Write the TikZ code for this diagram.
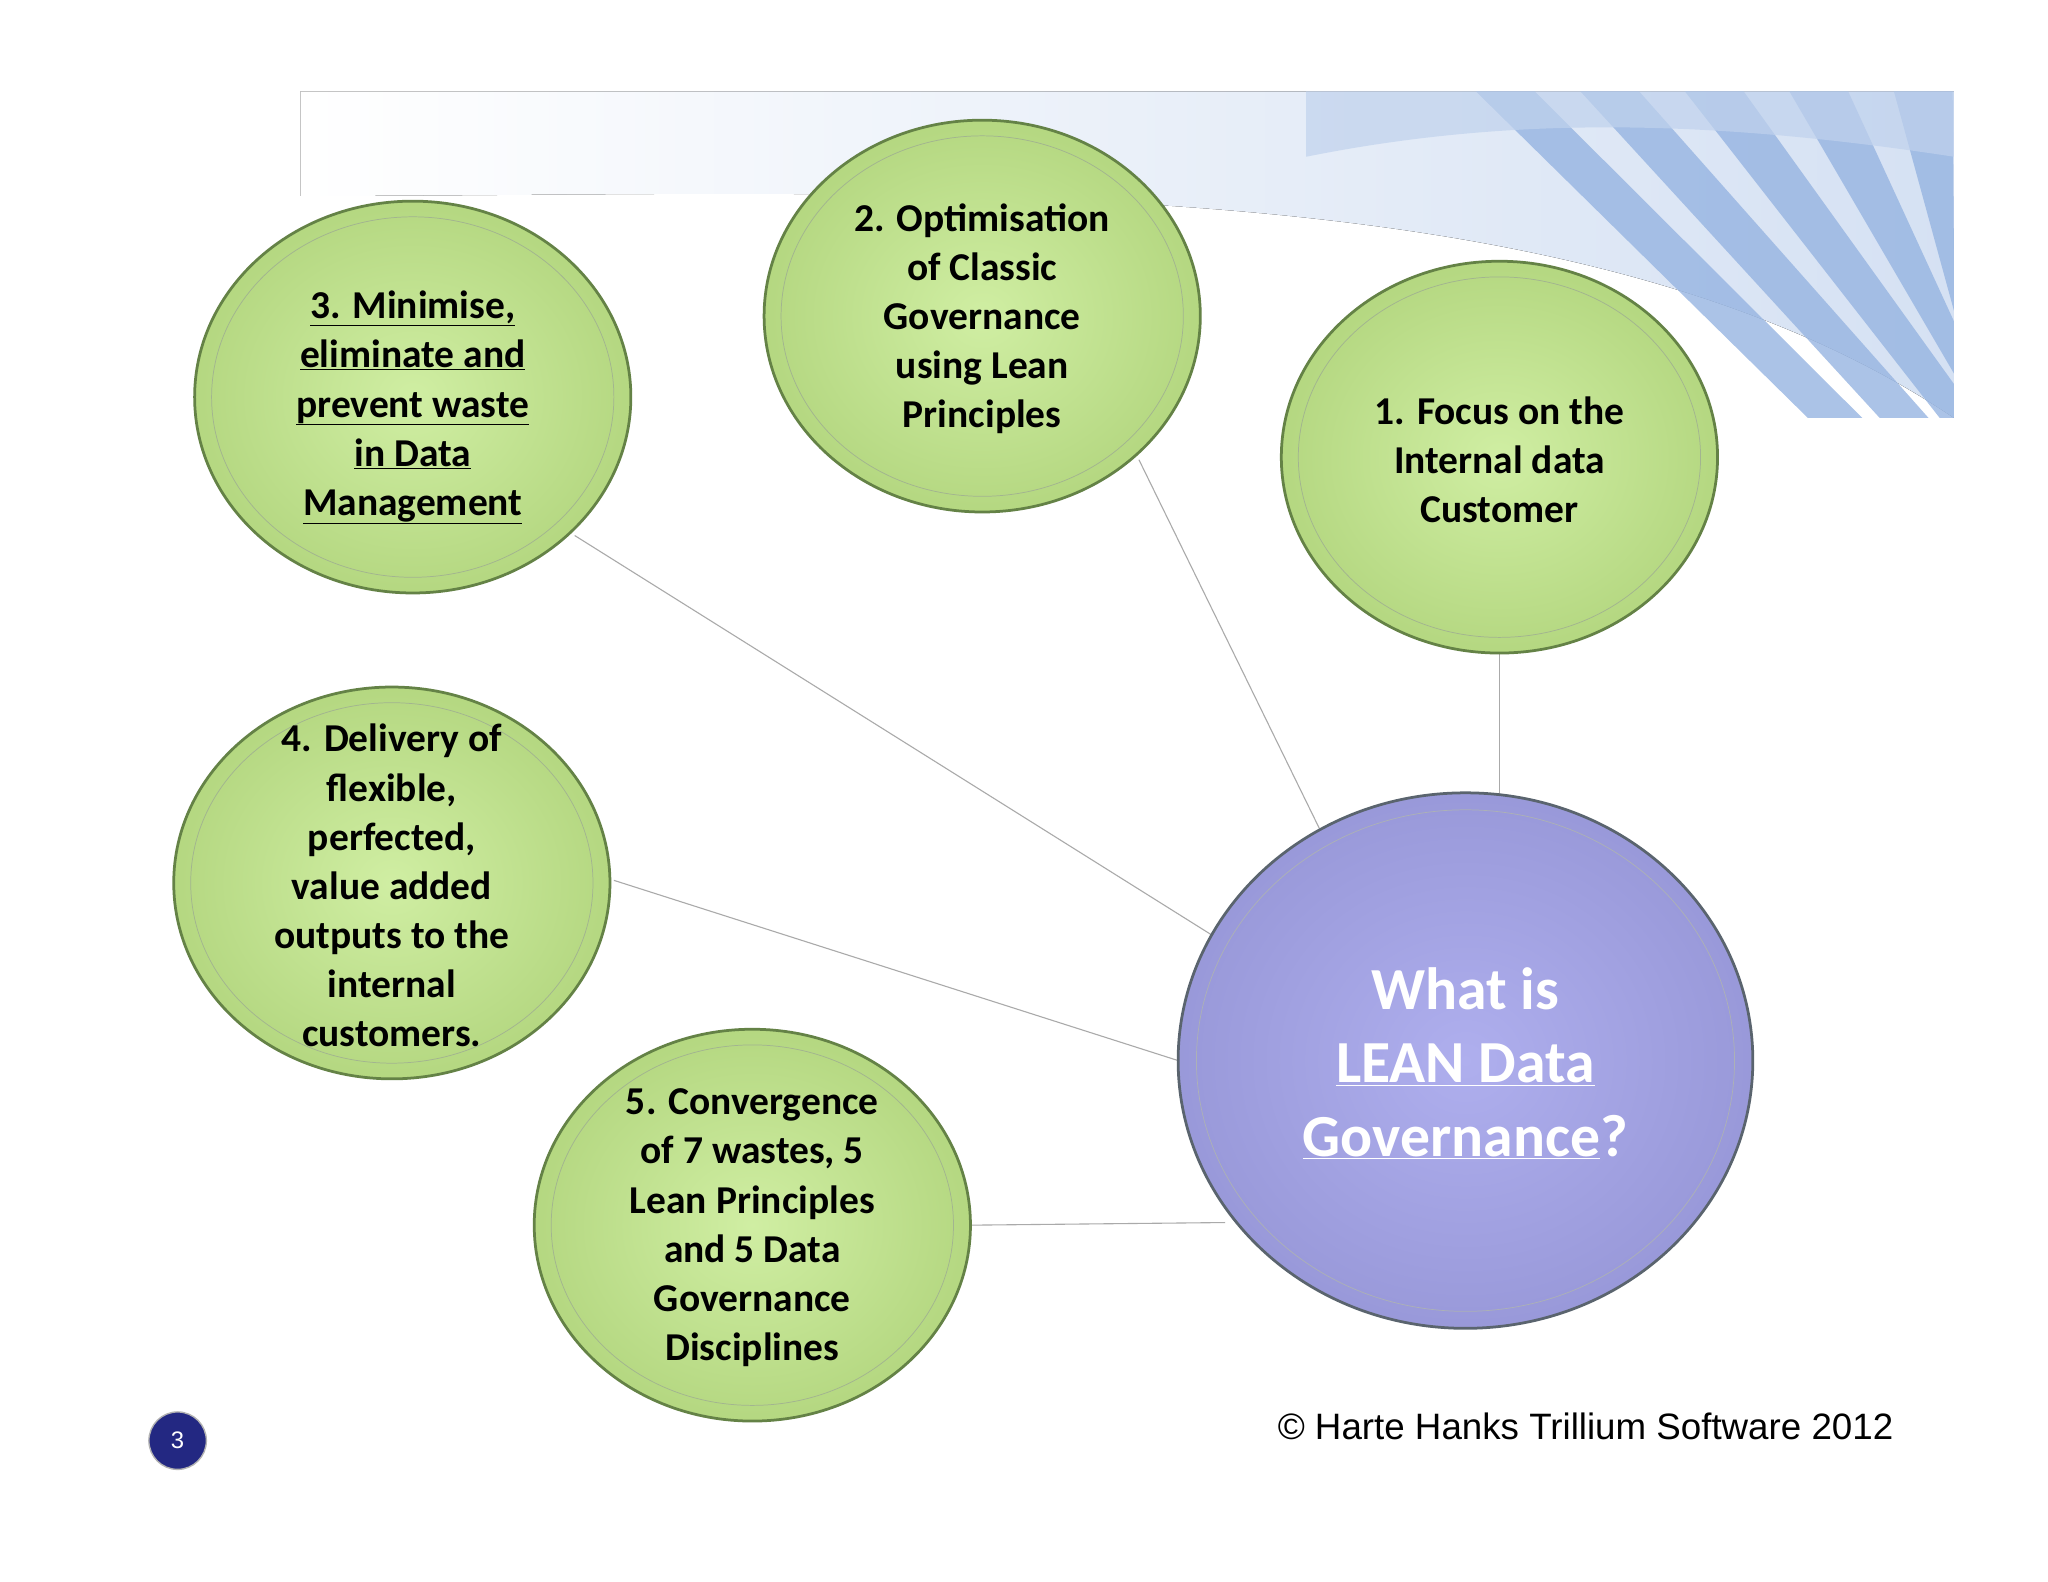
\documentclass[tikz,border=0pt]{standalone}
\usepackage{fontspec}
\setmainfont{Carlito}
\newfontfamily\arialf{Liberation Sans}
\definecolor{gfill}{RGB}{196,234,140}
\definecolor{gedge}{RGB}{100,130,70}
\definecolor{pfill}{RGB}{166,166,236}
\definecolor{pedge}{RGB}{90,100,110}
\definecolor{stripe}{RGB}{150,180,225}
\definecolor{navy}{RGB}{35,40,130}
\definecolor{conn}{RGB}{170,170,170}
\begin{document}
\begin{tikzpicture}[x=0.05cm,y=-0.05cm,
  ring/.style={draw=gedge!60,line width=0.8pt},
  link/.style={draw=conn,line width=1.2pt}]
\useasboundingbox (0,0) rectangle (1568,1211);
\fill[white] (0,0) rectangle (1568,1211);
% background stripes
\fill[left color=white,right color=stripe!40] (230,70) -- (1496,70) -- (1496,320) .. controls (1200,120) and (700,150) .. (230,150) -- cycle;
\begin{scope}
\clip (900,70) rectangle (1496,320);
\foreach \s in {0,80,160,240,320,400}{
  \fill[stripe,opacity=0.8] (1130+\s,70) -- (1175+\s,70) -- (1496,390-\s*0.6) -- (1496,430-\s*0.6) -- cycle;}
\fill[stripe!60,opacity=0.7] (1000,70) -- (1496,70) -- (1496,120) .. controls (1300,90) and (1150,90) .. (1000,120) -- cycle;
\end{scope}
% nodes
\coordinate (c3) at (316,304); \coordinate (c2) at (752,242);
\coordinate (c1) at (1148,350); \coordinate (c4) at (300,676);
\coordinate (c5) at (576,938); \coordinate (cc) at (1122,812);
\coordinate (e3) at (928,716); \coordinate (e2) at (1010,634);
\coordinate (e1) at (1148,610); \coordinate (e4) at (902,812);
\coordinate (e5) at (938,936);
\coordinate (s3) at (440,410); \coordinate (s2) at (872,352);
\coordinate (s1) at (1148,500); \coordinate (s4) at (470,674);
\coordinate (s5) at (744,938);
\draw[link] (s3) -- (e3); \draw[link] (s2) -- (e2); \draw[link] (s1) -- (e1);
\draw[link] (s4) -- (e4); \draw[link] (s5) -- (e5);
\foreach \c in {c3,c2,c1,c4,c5}{
  \fill[inner color=gfill!80!white,outer color=gfill!92!black,draw=gedge,line width=3pt] (\c) ellipse [x radius=167,y radius=150];
  \draw[ring] (\c) ellipse [x radius=154,y radius=138];}
\fill[inner color=pfill!90!white,outer color=pfill!92!black,draw=pedge,line width=3pt] (cc) ellipse [x radius=220,y radius=205];
\draw[draw=pedge!50,line width=0.8pt] (cc) ellipse [x radius=206,y radius=192];
\tikzset{t/.style={align=center,font=\bfseries\fontsize{43}{53.5}\selectfont}}
\node[t] (t3) at (316,312) {\underline{3. Minimise,}\\\underline{eliminate and}\\\underline{prevent waste}\\\underline{in Data}\\\underline{Management}};
\node[t] (t2) at (752,244) {2. Optimisation\\of Classic\\Governance\\using Lean\\Principles};
\node[t] (t1) at (1148,352) {1. Focus on the\\Internal data\\Customer};
\node[t] (t4) at (300,678) {4. Delivery of\\flexible,\\perfected,\\value added\\outputs to the\\internal\\customers.};
\node[t] (t5) at (576,940) {5. Convergence\\of 7 wastes, 5\\Lean Principles\\and 5 Data\\Governance\\Disciplines};
\node[align=center,text=white,font=\bfseries\fontsize{65}{80}\selectfont] (tc) at (1122,814) {What is\\\underline{LEAN Data}\\\underline{Governance}?};
\node[font=\arialf\fontsize{40}{48}\selectfont,anchor=east] (copy) at (1452,1092) {© Harte Hanks Trillium Software 2012};
\fill[navy,draw=gray!60,line width=1.5pt] (136,1103) circle (22);
\node[text=white,font=\arialf\fontsize{26}{30}\selectfont] (pg) at (136,1103) {3};
\end{tikzpicture}
\end{document}
